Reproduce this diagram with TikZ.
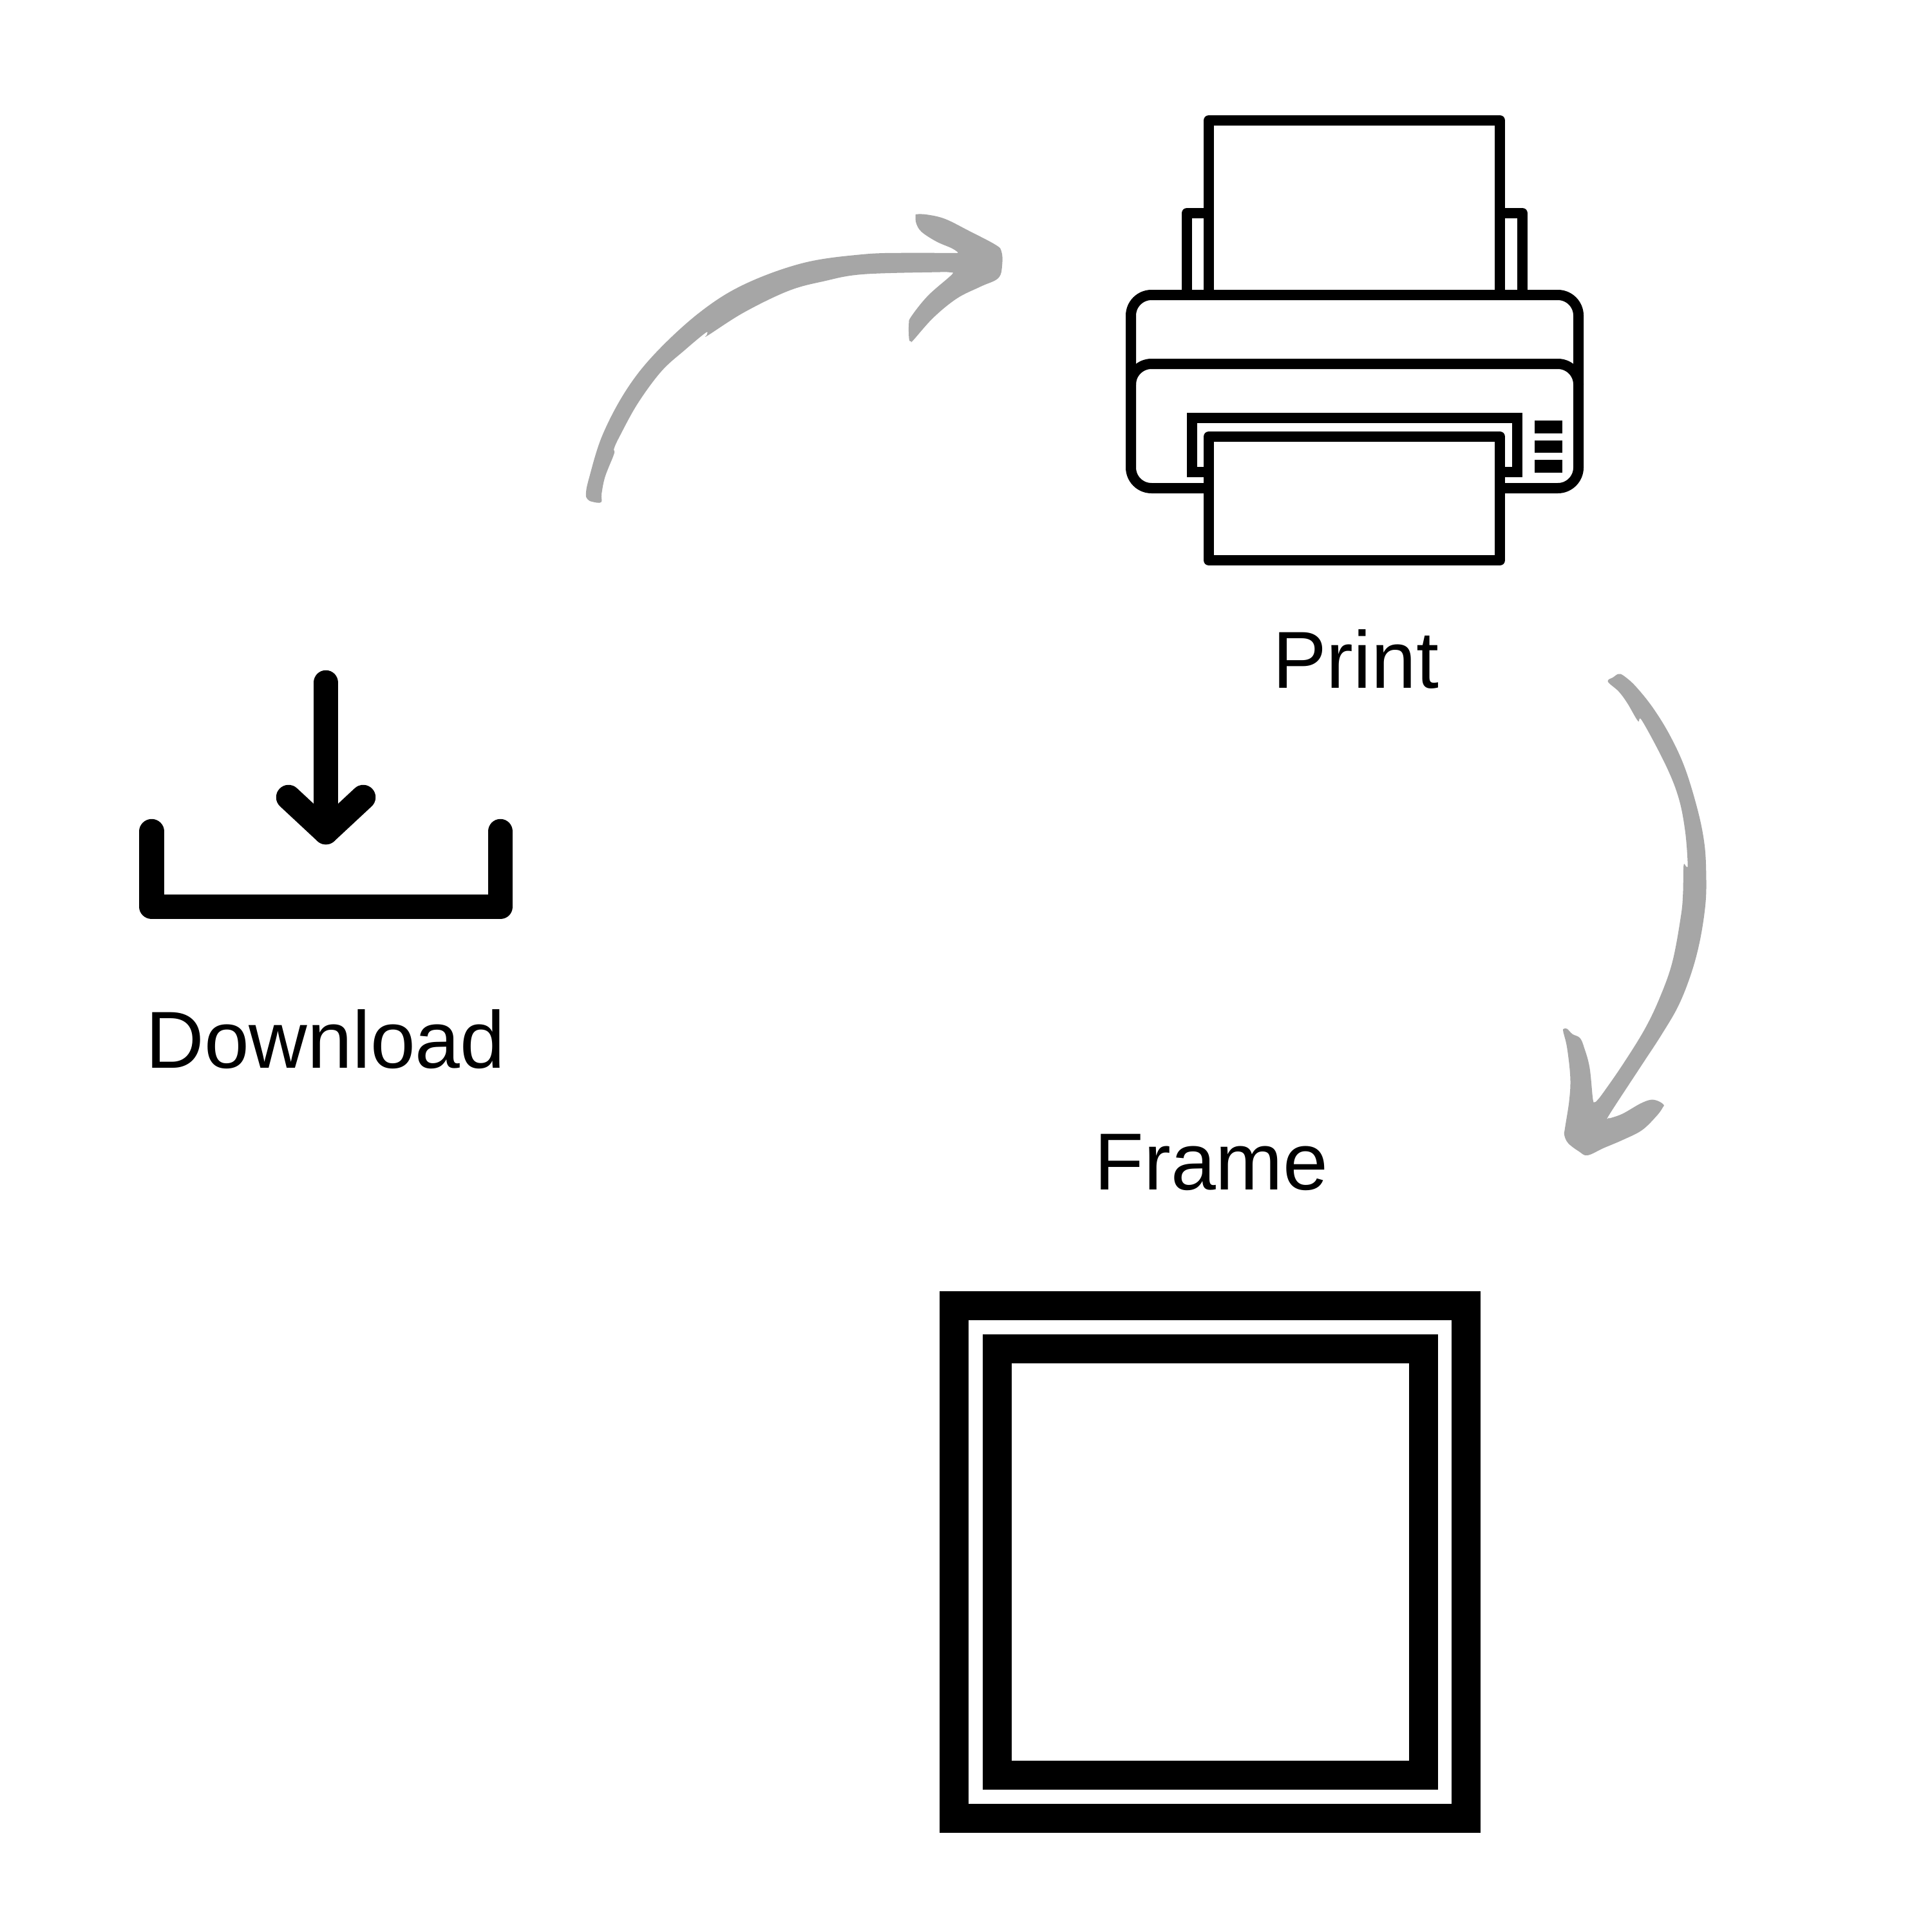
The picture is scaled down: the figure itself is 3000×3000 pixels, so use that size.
\documentclass[tikz,border=0pt]{standalone}
\usepackage{fontspec}
\setmainfont{Liberation Sans}
\tikzset{
  icon/.style={draw=black,line width=16pt,line join=round,fill=white},
  iconline/.style={draw=black,line width=16pt,line join=round},
  dl/.style={draw=black,line width=38.5pt,line cap=round,line join=round},
  lab/.style={inner sep=0pt,anchor=base,font=\fontsize{125.5pt}{125.5pt}\selectfont,text=black},
  sketch/.style={fill=sketchgray},
  btn/.style={fill=black}
}
\definecolor{sketchgray}{HTML}{A6A6A6}
\begin{document}
\begin{tikzpicture}[x=1pt,y=-1pt]
\useasboundingbox (0,0) rectangle (3000,3000);
\fill[white] (0,0) rectangle (3000,3000);
% download
\draw[dl] (235.6,1291) -- (235.6,1408) -- (777,1408) -- (777,1291);
\draw[dl] (506,1060) -- (506,1292);
\draw[dl] (448,1238) -- (506,1292) -- (564,1238);
\node[lab] (download) at (505.5,1658) {Download};
% printer
\draw[iconline] (1843,458) -- (1843,331) -- (1877,331);
\draw[iconline] (2364,458) -- (2364,331) -- (2329,331);
\draw[iconline] (1877,458) -- (1877,187) -- (2329,187) -- (2329,458);
\draw[iconline] (1788,458) -- (2419,458) arc[start angle=-90,end angle=0,radius=32] -- (2451,726) arc[start angle=0,end angle=90,radius=32] -- (1788,758) arc[start angle=90,end angle=180,radius=32] -- (1756,490) arc[start angle=180,end angle=270,radius=32] -- cycle;
\draw[iconline] (1756,597) arc[start angle=180,end angle=270,radius=32] -- (2419,565) arc[start angle=270,end angle=360,radius=32];
\draw[draw=black,line width=16pt,miter limit=10] (1869,733) -- (1851,733) -- (1851,649) -- (2356,649) -- (2356,733) -- (2337,733);
\draw[icon] (1877,678) rectangle (2329,870);
\fill[btn] (2383,653) rectangle (2426,672.5);
\fill[btn] (2383,684) rectangle (2426,703);
\fill[btn] (2383,714) rectangle (2426,734);
\node[lab] (print) at (2105,1068) {Print};
% frame
\node[lab] (frame) at (1881,1847) {Frame};
\draw[black,line width=45pt] (1481.5,2027.5) rectangle (2276.8,2823.7);
\draw[black,line width=45pt] (1548.5,2094.7) rectangle (2210,2756.5);
% arrows
\begin{scope}[shift={(880,300)},x=0.4591pt,y=-0.3333pt]
\fill[sketch] plot[smooth cycle,tension=0.6] coordinates {
(65,1400)(75,1330)(120,1130)(200,920)(300,745)(450,555)(600,425)(800,325)(1000,285)(1150,278)(1300,279)(1322,278)(1320,272)
(1300,255)(1250,225)(1200,180)(1182,140)(1180,105)(1184,98)(1220,100)(1280,120)(1360,175)(1450,240)(1470,270)(1473,330)(1460,395)
(1400,435)(1320,490)(1240,580)(1172,685)(1165,690)(1158,680)(1157,610)(1165,575)(1220,480)(1290,395)(1305,375)(1300,369)(1245,368)(1000,378)(870,410)(750,455)(600,555)(478,662)(474,660)(470,650)(400,730)(320,830)(240,980)(180,1130)(160,1190)(160,1215)(130,1320)(118,1400)(116,1440)(85,1437)(70,1425)};
\end{scope}
\begin{scope}[shift={(2380,1020)},x=0.3333pt,y=-0.5102pt]
\fill[sketch] plot[smooth cycle,tension=0.6] coordinates {
(350,75)(375,62)(400,52)(425,58)(480,90)(560,155)(640,240)(710,340)(770,470)(800,570)(808,660)(805,750)(780,860)(740,960)(680,1060)(600,1150)(500,1250)(357,1393)(356,1403)(365,1403)(420,1390)(500,1360)(550,1348)(585,1352)(610,1363)(607,1370)(580,1395)(510,1440)(420,1470)(330,1495)(255,1517)(215,1505)(165,1480)(147,1455)(150,1435)(170,1350)(175,1280)(160,1190)(142,1140)(145,1132)(160,1132)(185,1148)(220,1160)(240,1190)(265,1250)(280,1345)(288,1355)(300,1350)(330,1325)(420,1240)(520,1135)(590,1040)(650,930)(690,790)(700,720)(703,635)(715,638)(722,630)(710,530)(680,430)(620,330)(510,195)(490,195)(440,140)(400,105)};
\end{scope}
\end{tikzpicture}
\end{document}
